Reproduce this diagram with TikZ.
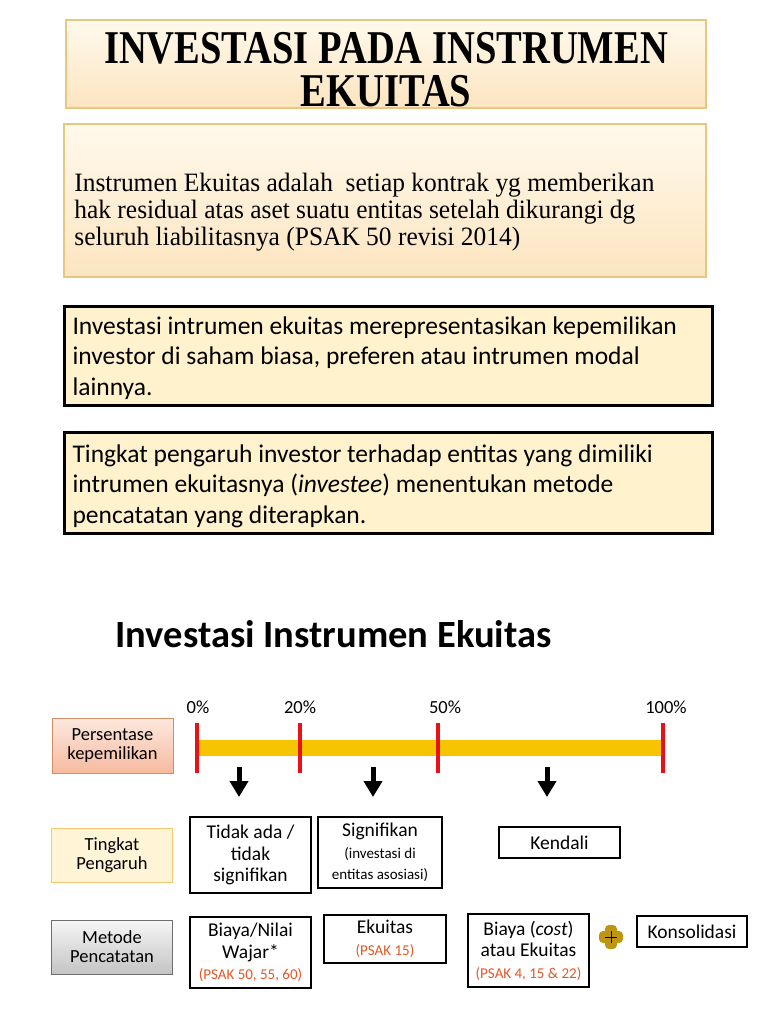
\documentclass[tikz,border=0pt]{standalone}
\usepackage{fontspec}
\setmainfont{Liberation Serif}
\newfontfamily\calibri{Carlito}
\usetikzlibrary{positioning,calc,arrows.meta}

\definecolor{peachtop}{RGB}{255,249,236}
\definecolor{peachbot}{RGB}{252,229,192}
\definecolor{peachline}{RGB}{232,200,126}
\definecolor{notefill}{RGB}{255,242,204}
\definecolor{baryellow}{RGB}{246,196,0}
\definecolor{tickred}{RGB}{234,16,24}
\definecolor{psakred}{RGB}{226,88,38}
\definecolor{salmontop}{RGB}{253,232,222}
\definecolor{salmonbot}{RGB}{246,186,160}
\definecolor{salmonline}{RGB}{212,140,100}
\definecolor{lighttan}{RGB}{255,244,214}
\definecolor{tanline}{RGB}{248,200,110}
\definecolor{greytop}{RGB}{246,246,246}
\definecolor{greybot}{RGB}{196,196,196}
\definecolor{greyline}{RGB}{110,110,110}
\definecolor{plusgold}{RGB}{190,150,18}

\newcommand\psak[1]{{\color{psakred}\fontsize{15}{17}\selectfont #1}}

\tikzset{
  headbox/.style={draw=peachline, line width=1.2pt, top color=peachtop, bottom color=peachbot},
  notebox/.style={draw=black, line width=3pt, fill=notefill},
  notetext/.style={anchor=west, align=left, font=\calibri\fontsize{25.5}{30.5}\selectfont},
  rowlabel/.style={line width=1pt, align=center, font=\calibri\fontsize{18.5}{19}\selectfont,
    minimum width=121, minimum height=54},
  choicebox/.style={draw=black, line width=2.3pt, fill=white, align=center, inner sep=1pt,
    font=\calibri\fontsize{19.5}{21.5}\selectfont},
  redtick/.style={tickred, line width=4pt},
  pctlabel/.style={font=\calibri\fontsize{18.5}{20}\selectfont, anchor=base},
  downarrow/.style={line width=5pt, -{Triangle[length=16pt, width=18pt]}}
}

\begin{document}
\begin{tikzpicture}[x=1pt,y=-1pt]
\useasboundingbox (0,0) rectangle (768,1024);

\node[headbox, minimum width=640, minimum height=88] (title) at (386,64) {};
\node[font=\fontsize{47}{43}\selectfont\bfseries, align=center, xscale=0.82] (titletext)
  at ($ (title.center) + (0,6) $) {INVESTASI PADA INSTRUMEN\\EKUITAS};

\node[headbox, minimum width=642, minimum height=153] (defbox) at (385,200.5) {};
\node[anchor=west, align=left, font=\fontsize{26.5}{27}\selectfont, xscale=0.96] (deftext)
  at (71,212) {Instrumen Ekuitas adalah~ setiap kontrak yg memberikan\\
  hak residual atas aset suatu entitas setelah dikurangi dg\\
  seluruh liabilitasnya (PSAK 50 revisi 2014)};

\node[notebox, minimum width=648, minimum height=99] (ownbox) at (388,355.5) {};
\node[notetext] (owntext) at (69,358) {Investasi intrumen ekuitas merepresentasikan kepemilikan\\
  investor di saham biasa, preferen atau intrumen modal\\lainnya.};

\node[notebox, minimum width=648, minimum height=101] (inflbox) at (388,482.5) {};
\node[notetext] (infltext) at (69,486) {Tingkat pengaruh investor terhadap entitas yang dimiliki\\
  intrumen ekuitasnya (\textit{investee}) menentukan metode\\pencatatan yang diterapkan.};

\node[anchor=base west, font=\calibri\bfseries\fontsize{38.5}{44}\selectfont] (heading)
  at (112,647) {Investasi Instrumen Ekuitas};

% skala persentase
\coordinate (p0) at (196.5,748);
\coordinate (p20) at (299.5,748);
\coordinate (p50) at (437.5,748);
\coordinate (p100) at (662.5,748);
\draw[baryellow, line width=16pt] (p0) -- (p100);
\foreach \p/\x/\lab in {p0/198/0, p20/300/20, p50/445/50, p100/666/100} {
  \draw[redtick] ($ (\p) + (0,-25) $) -- ($ (\p) + (0,25) $);
  \node[pctlabel] (lab\p) at (\x,713) {\lab\%};
}

\foreach \n/\x in {a/239, b/373, c/547} {
  \coordinate (\n top) at (\x,767);
  \coordinate (\n tip) at (\x,797);
  \draw[downarrow] (\n top) -- (\n tip);
}

\node[rowlabel, draw=salmonline, top color=salmontop, bottom color=salmonbot, minimum height=55]
  (pct) at (112.5,745.5) {Persentase\\kepemilikan};
\node[rowlabel, draw=tanline, fill=lighttan] (infl) at (112,855) {Tingkat\\Pengaruh};
\node[rowlabel, draw=greyline, top color=greytop, bottom color=greybot] (meth) at (112,947)
  {Metode\\Pencatatan};

\node[choicebox, minimum width=121, minimum height=76] (noinfl) at (250.5,855)
  {Tidak ada /\\tidak\\signifikan};
\node[choicebox, minimum width=124, minimum height=71] (siginfl) at (380,852.5)
  {Signifikan\\{\fontsize{15}{17}\selectfont (investasi di}\\{\fontsize{15}{17}\selectfont entitas asosiasi)}};
\node[choicebox, minimum width=121, minimum height=31] (ctrl) at (559.5,842.5) {Kendali};

\node[choicebox, minimum width=121, minimum height=71] (costfair) at (250.5,952.5)
  {Biaya/Nilai\\Wajar*\\\psak{(PSAK 50, 55, 60)}};
\node[choicebox, minimum width=122, minimum height=48] (equity) at (385,939)
  {Ekuitas\\\psak{(PSAK 15)}};
\node[choicebox, minimum width=121, minimum height=73] (costeq) at (528.5,950.5)
  {Biaya (\textit{cost})\\atau Ekuitas\\\psak{(PSAK 4, 15 \& 22)}};
\node[choicebox, minimum width=110, minimum height=31] (consol) at (692,931.5) {Konsolidasi};

\coordinate (plus) at (611,937);
\fill[plusgold, rounded corners=4pt] ($ (plus) + (-12,-6) $) rectangle ($ (plus) + (12,6) $);
\fill[plusgold, rounded corners=4pt] ($ (plus) + (-6,-12) $) rectangle ($ (plus) + (6,12) $);
\draw[line width=1pt] ($ (plus) + (-6,0) $) -- ($ (plus) + (6,0) $);
\draw[line width=1pt] ($ (plus) + (0,-6) $) -- ($ (plus) + (0,6) $);

\end{tikzpicture}
\end{document}
